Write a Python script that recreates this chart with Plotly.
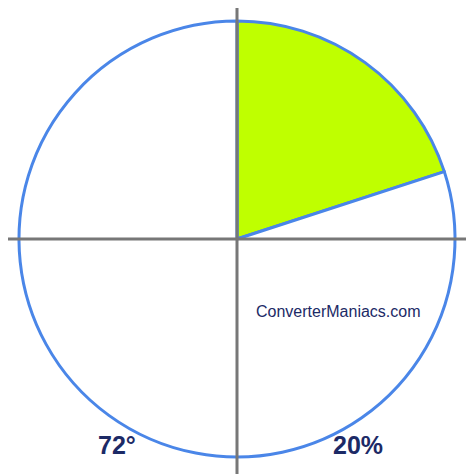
import plotly.graph_objects as go

labels = ["share", "rest"]
values = [20, 80]
colors = ["#bfff00", "#ffffff"]
degree_text = "72°"
percent_text = "20%"

fig = go.Figure(go.Pie(
    labels=labels, values=values, sort=False, direction="clockwise", rotation=0,
    marker=dict(colors=colors, line=dict(color="#4a86e8", width=3)),
    textinfo="none", hoverinfo="skip", showlegend=False,
))

# crosshair axes
fig.add_shape(type="line", xref="paper", yref="paper", x0=0.5, x1=0.5, y0=-0.1, y1=1.1,
              line=dict(color="#777777", width=3), layer="above")
fig.add_shape(type="line", xref="paper", yref="paper", x0=-0.1, x1=1.1, y0=0.5, y1=0.5,
              line=dict(color="#777777", width=3), layer="above")

navy = "#1c2a66"
font = "Liberation Sans, Arial"
fig.add_annotation(x=0.732, y=0.333, xref="paper", yref="paper", xanchor="center", yanchor="middle",
                   text="ConverterManiacs.com", showarrow=False,
                   font=dict(family=font, size=16, color=navy))
fig.add_annotation(x=0.225, y=0.028, xref="paper", yref="paper", xanchor="center", yanchor="middle",
                   text="<b>" + degree_text + "</b>", showarrow=False,
                   font=dict(family=font, size=25, color=navy))
fig.add_annotation(x=0.778, y=0.028, xref="paper", yref="paper", xanchor="center", yanchor="middle",
                   text="<b>" + percent_text + "</b>", showarrow=False,
                   font=dict(family=font, size=25, color=navy))

fig.update_layout(width=474, height=474, margin=dict(l=11, r=27, t=13, b=25),
                  paper_bgcolor="white", plot_bgcolor="white")
fig.write_html("out.html")
